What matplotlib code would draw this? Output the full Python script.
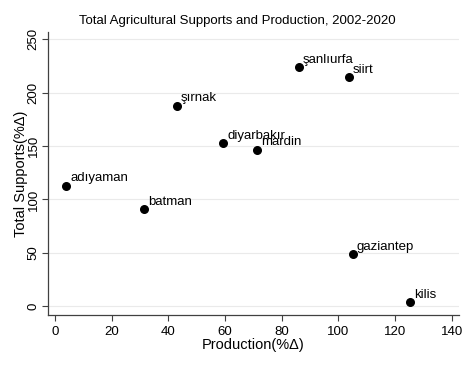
import matplotlib
matplotlib.use("Agg")
import matplotlib.pyplot as plt

plt.rcParams["font.family"] = ["Liberation Sans", "DejaVu Sans"]

# Provinces, production change (%) and total supports change (%)
PROVINCES = ["şanlıurfa", "siirt", "şırnak", "diyarbakır", "mardin",
             "adıyaman", "batman", "gaziantep", "kilis"]
PRODUCTION = [86.0, 103.7, 43.0, 59.4, 71.3, 3.9, 31.4, 105.0, 125.3]
SUPPORTS = [223.7, 214.6, 187.7, 152.8, 146.5, 112.8, 90.6, 48.4, 3.5]

X_TICKS = [0, 20, 40, 60, 80, 100, 120, 140]
Y_TICKS = [0, 50, 100, 150, 200, 250]

AXIS = "#404040"
GRID = "#eaeaea"

fig = plt.figure(figsize=(4.74, 3.66), dpi=100)
fig.patch.set_facecolor("white")
ax = fig.add_axes([0.101, 0.139, 0.867, 0.774])

ax.scatter(PRODUCTION, SUPPORTS, s=30, color="black", zorder=3)
for name, x, y in zip(PROVINCES, PRODUCTION, SUPPORTS):
    ax.annotate(name, (x, y), xytext=(3, 1), textcoords="offset points",
                ha="left", va="bottom", fontsize=9.5, color="black")

ax.set_xlim(-2.5, 142.5)
ax.set_ylim(-8.4, 257)
ax.set_xticks(X_TICKS)
ax.set_yticks(Y_TICKS)
for lbl in ax.get_yticklabels():
    lbl.set_rotation(90)
    lbl.set_va("center")

ax.grid(True, axis="y", color=GRID, linewidth=0.8)
ax.set_axisbelow(True)
for side in ("top", "right"):
    ax.spines[side].set_visible(False)
for side in ("left", "bottom"):
    ax.spines[side].set_color(AXIS)
    ax.spines[side].set_linewidth(0.9)
ax.tick_params(colors=AXIS, labelcolor="black", labelsize=9.5, length=4, width=0.8)
ax.tick_params(axis="y", pad=2)

ax.set_xlabel("Production(%Δ)", fontsize=10.5, labelpad=0)
ax.set_ylabel("Total Supports(%Δ)", fontsize=10.5, labelpad=0)
fig.text(0.5, 1 - 21 / 366, "Total Agricultural Supports and Production, 2002-2020",
         ha="center", va="center", fontsize=9.5)

fig.savefig("out.png", dpi=100, facecolor="white")
